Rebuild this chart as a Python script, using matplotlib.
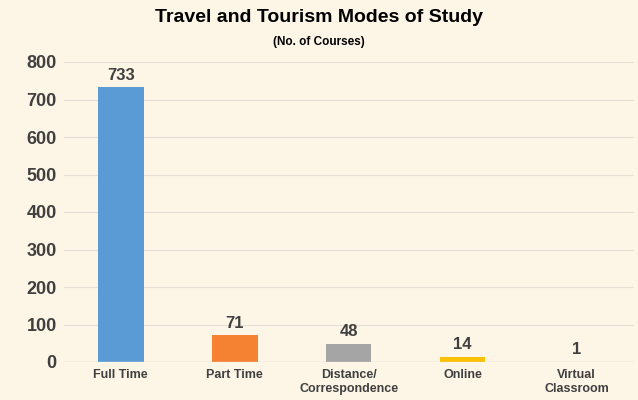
import matplotlib
matplotlib.use("Agg")
import matplotlib.pyplot as plt

plt.rcParams["font.family"] = ["Liberation Sans", "DejaVu Sans"]

categories = ["Full Time", "Part Time", "Distance/\nCorrespondence", "Online", "Virtual\nClassroom"]
values = [733, 71, 48, 14, 1]
colors = ["#5B9BD5", "#F58233", "#A5A5A5", "#FFC000", "#4472C4"]
yticks = [0, 100, 200, 300, 400, 500, 600, 700, 800]

BG = "#FDF5E6"
fig = plt.figure(figsize=(6.38, 4.0), dpi=100, facecolor=BG)
ax = fig.add_axes([0.100, 0.095, 0.893, 0.75], facecolor=BG)

x = range(len(categories))
ax.bar(x, values, width=0.4, color=colors, zorder=3)
for xi, v in zip(x, values):
    ax.text(xi, v + 12, str(v), ha="center", va="bottom", fontsize=12,
            fontweight="bold", color="#404040")

ax.set_xlim(-0.5, len(categories) - 0.5)
ax.set_ylim(0, 800)
ax.set_yticks(yticks)
ax.set_yticklabels([str(t) for t in yticks], fontsize=13, fontweight="bold", color="#404040")
ax.set_xticks(list(x))
ax.set_xticklabels(categories, fontsize=9, fontweight="bold", color="#404040")
ax.tick_params(length=0, pad=5)
ax.grid(axis="y", color="#E6E0D4", linewidth=0.8, zorder=0)
for s in ax.spines.values():
    s.set_visible(False)
ax.axhline(0, color="#D9D9D9", linewidth=1, zorder=4)

fig.text(0.5, 0.955, "Travel and Tourism Modes of Study", ha="center", va="center",
         fontsize=14, fontweight="bold", color="#000000")
fig.text(0.5, 0.895, "(No. of Courses)", ha="center", va="center",
         fontsize=8.5, fontweight="bold", color="#000000")

plt.savefig("out.png", dpi=100, facecolor=BG)
plt.close()
